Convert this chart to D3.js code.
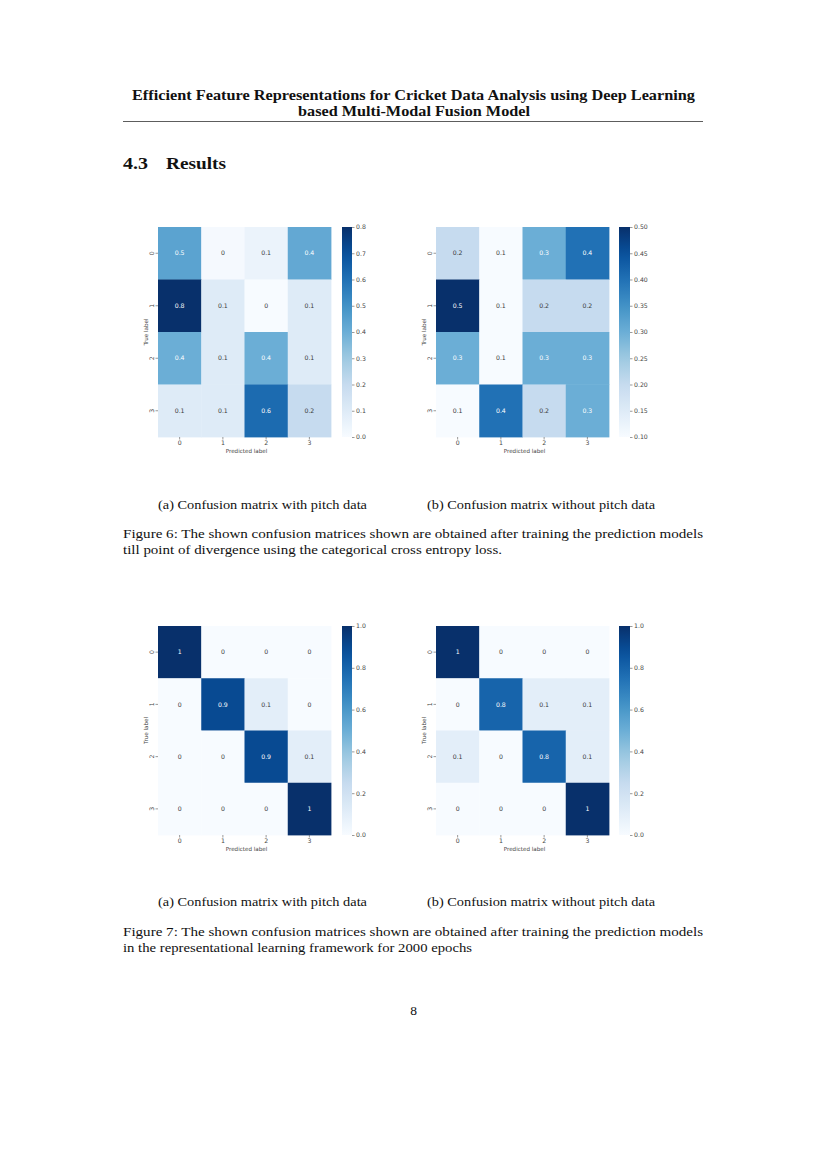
<!DOCTYPE html>
<html>
<head>
<meta charset="utf-8">
<script src="https://cdn.jsdelivr.net/npm/d3@7"></script>
<style>
  html, body { margin: 0; padding: 0; background: #fff; }
  svg { display: block; }
</style>
</head>
<body>
<script>
// ---------- DATA ----------
const classes = ["0", "1", "2", "3"];

// Figure 6 (a): with pitch data — colour values estimated from shading, labels as annotated
const fig6aValues = [
  [0.44, 0.01, 0.05, 0.42],
  [0.80, 0.10, 0.00, 0.10],
  [0.40, 0.10, 0.40, 0.10],
  [0.10, 0.10, 0.62, 0.20]
];
const fig6aLabels = [
  ["0.5", "0", "0.1", "0.4"],
  ["0.8", "0.1", "0", "0.1"],
  ["0.4", "0.1", "0.4", "0.1"],
  ["0.1", "0.1", "0.6", "0.2"]
];
const fig6aTicks = [0.0, 0.1, 0.2, 0.3, 0.4, 0.5, 0.6, 0.7, 0.8];

// Figure 6 (b): without pitch data
const fig6bValues = [
  [0.20, 0.10, 0.30, 0.40],
  [0.50, 0.10, 0.20, 0.20],
  [0.30, 0.10, 0.30, 0.30],
  [0.10, 0.40, 0.20, 0.30]
];
const fig6bLabels = [
  ["0.2", "0.1", "0.3", "0.4"],
  ["0.5", "0.1", "0.2", "0.2"],
  ["0.3", "0.1", "0.3", "0.3"],
  ["0.1", "0.4", "0.2", "0.3"]
];
const fig6bTicks = [0.10, 0.15, 0.20, 0.25, 0.30, 0.35, 0.40, 0.45, 0.50];

// Figure 7 (a): with pitch data
const fig7aValues = [
  [1.0, 0.0, 0.0, 0.0],
  [0.0, 0.9, 0.1, 0.0],
  [0.0, 0.0, 0.9, 0.1],
  [0.0, 0.0, 0.0, 1.0]
];
const fig7aLabels = [
  ["1", "0", "0", "0"],
  ["0", "0.9", "0.1", "0"],
  ["0", "0", "0.9", "0.1"],
  ["0", "0", "0", "1"]
];
const fig7aTicks = [0.0, 0.2, 0.4, 0.6, 0.8, 1.0];

// Figure 7 (b): without pitch data
const fig7bValues = [
  [1.0, 0.0, 0.0, 0.0],
  [0.0, 0.8, 0.1, 0.1],
  [0.1, 0.0, 0.8, 0.1],
  [0.0, 0.0, 0.0, 1.0]
];
const fig7bLabels = [
  ["1", "0", "0", "0"],
  ["0", "0.8", "0.1", "0.1"],
  ["0.1", "0", "0.8", "0.1"],
  ["0", "0", "0", "1"]
];
const fig7bTicks = [0.0, 0.2, 0.4, 0.6, 0.8, 1.0];

// matplotlib "Blues" colour stops
const bluesStops = ["#f7fbff", "#deebf7", "#c6dbef", "#9ecae1", "#6baed6", "#4292c6", "#2171b5", "#08519c", "#08306b"];

// ---------- PAGE ----------
const W = 827, H = 1169;
const svg = d3.select("body").append("svg").attr("width", W).attr("height", H);
svg.append("rect").attr("width", W).attr("height", H).attr("fill", "#fff");

const serif = "'Liberation Serif', 'DejaVu Serif', serif";
const sans = "'DejaVu Sans', sans-serif";

function ptext(t, x, y, size, opts = {}) {
  const el = svg.append("text")
    .attr("x", x).attr("y", y)
    .attr("font-family", serif)
    .attr("font-size", size)
    .attr("font-weight", opts.bold ? "bold" : "normal")
    .attr("fill", "#111")
    .attr("text-anchor", opts.anchor || "start")
    .text(t);
  if (opts.len) el.attr("textLength", opts.len).attr("lengthAdjust", "spacingAndGlyphs");
  return el;
}

// Running header
ptext("Efficient Feature Representations for Cricket Data Analysis using Deep Learning", 132, 99.5, 14, { bold: true, len: 563 });
ptext("based Multi-Modal Fusion Model", 298, 116, 14, { bold: true, len: 232 });
svg.append("line").attr("x1", 123).attr("x2", 703).attr("y1", 121.5).attr("y2", 121.5)
  .attr("stroke", "#333").attr("stroke-width", 0.8);

// Section heading
ptext("4.3", 123, 168.5, 17, { bold: true, len: 25 });
ptext("Results", 166, 168.5, 17, { bold: true, len: 60 });

// Captions
ptext("(a) Confusion matrix with pitch data", 158, 508.5, 13.5, { len: 209 });
ptext("(b) Confusion matrix without pitch data", 427, 508.5, 13.5, { len: 228 });
ptext("Figure 6: The shown confusion matrices shown are obtained after training the prediction models", 123, 537.5, 13.5, { len: 580 });
ptext("till point of divergence using the categorical cross entropy loss.", 123, 553.5, 13.5, { len: 379 });

ptext("(a) Confusion matrix with pitch data", 158, 905.5, 13.5, { len: 209 });
ptext("(b) Confusion matrix without pitch data", 427, 905.5, 13.5, { len: 228 });
ptext("Figure 7: The shown confusion matrices shown are obtained after training the prediction models", 123, 935.5, 13.5, { len: 580 });
ptext("in the representational learning framework for 2000 epochs", 123, 951.5, 13.5, { len: 349 });

ptext("8", 413.5, 1014.5, 13.5, { anchor: "middle" });

// ---------- HEATMAPS ----------
const blues = d3.piecewise(d3.interpolateRgb, bluesStops);

function luminance(c) {
  const rgb = d3.rgb(c);
  const f = v => { v /= 255; return v <= 0.03928 ? v / 12.92 : Math.pow((v + 0.055) / 1.055, 2.4); };
  return 0.2126 * f(rgb.r) + 0.7152 * f(rgb.g) + 0.0722 * f(rgb.b);
}

const fs = 6.2;
let gradId = 0;
function heatmap(values, labels, ticks, domain, fmt, box) {
  const g = svg.append("g");
  const x = d3.scaleBand().domain(classes).range([box.x0, box.x1]);
  const y = d3.scaleBand().domain(classes).range([box.y0, box.y1]);
  const norm = d3.scaleLinear().domain(domain).range([0, 1]).clamp(true);
  const color = v => blues(norm(v));

  const cells = [];
  values.forEach((row, i) => row.forEach((v, j) => cells.push({ r: classes[i], c: classes[j], v, lab: labels[i][j] })));

  g.selectAll("rect.cell").data(cells).join("rect")
    .attr("class", "cell")
    .attr("x", d => x(d.c)).attr("y", d => y(d.r))
    .attr("width", x.bandwidth() + 0.4).attr("height", y.bandwidth() + 0.4)
    .attr("fill", d => color(d.v));

  g.selectAll("text.ann").data(cells).join("text")
    .attr("class", "ann")
    .attr("x", d => x(d.c) + x.bandwidth() / 2)
    .attr("y", d => y(d.r) + y.bandwidth() / 2)
    .attr("dy", "0.35em")
    .attr("text-anchor", "middle")
    .attr("font-family", sans).attr("font-size", fs)
    .attr("fill", d => luminance(color(d.v)) > 0.408 ? "#3a3a3a" : "#ffffff")
    .text(d => d.lab);

  // x axis
  const xa = g.append("g").attr("transform", `translate(0,${box.y1})`)
    .call(d3.axisBottom(x).tickSize(2.5).tickPadding(1.5));
  xa.select(".domain").remove();
  xa.selectAll("line").attr("stroke", "#555").attr("stroke-width", 0.6);
  xa.selectAll("text").attr("font-family", sans).attr("font-size", fs).attr("fill", "#444");

  // y axis
  const ya = g.append("g").attr("transform", `translate(${box.x0},0)`)
    .call(d3.axisLeft(y).tickSize(2.5).tickPadding(0));
  ya.select(".domain").remove();
  ya.selectAll("line").attr("stroke", "#555").attr("stroke-width", 0.6);
  ya.selectAll("text")
    .attr("font-family", sans).attr("font-size", fs).attr("fill", "#444")
    .attr("text-anchor", "middle").attr("dy", 0).attr("x", 0)
    .attr("transform", "translate(-5.5,0) rotate(-90)")
    .attr("dominant-baseline", "middle");

  g.append("text")
    .attr("x", (box.x0 + box.x1) / 2 + 2).attr("y", box.y1 + 15.5)
    .attr("text-anchor", "middle")
    .attr("font-family", sans).attr("font-size", 5.6).attr("fill", "#444")
    .text("Predicted label");
  g.append("text")
    .attr("transform", `translate(${box.x0 - 10.5},${(box.y0 + box.y1) / 2}) rotate(-90)`)
    .attr("text-anchor", "middle")
    .attr("font-family", sans).attr("font-size", 5.6).attr("fill", "#444")
    .text("True label");

  // colour bar
  const id = "cbgrad" + (gradId++);
  const grad = svg.append("defs").append("linearGradient")
    .attr("id", id).attr("x1", 0).attr("y1", 1).attr("x2", 0).attr("y2", 0);
  d3.range(0, 1.0001, 0.05).forEach(t => {
    grad.append("stop").attr("offset", t).attr("stop-color", blues(t));
  });
  const cy = d3.scaleLinear().domain(domain).range([box.y1, box.y0]);
  g.append("rect")
    .attr("x", box.cbx).attr("y", box.y0)
    .attr("width", box.cbw).attr("height", box.y1 - box.y0)
    .attr("fill", `url(#${id})`);
  const ca = g.append("g").attr("transform", `translate(${box.cbx + box.cbw},0)`)
    .call(d3.axisRight(cy).tickValues(ticks).tickFormat(d3.format(fmt)).tickSize(2.5).tickPadding(1.5));
  ca.select(".domain").remove();
  ca.selectAll("line").attr("stroke", "#555").attr("stroke-width", 0.6);
  ca.selectAll("text").attr("font-family", sans).attr("font-size", fs).attr("fill", "#444");
}

heatmap(fig6aValues, fig6aLabels, fig6aTicks, [0, 0.8], ".1f",
  { x0: 158, x1: 331, y0: 227, y1: 437, cbx: 342, cbw: 10 });
heatmap(fig6bValues, fig6bLabels, fig6bTicks, [0.1, 0.5], ".2f",
  { x0: 436, x1: 609, y0: 227, y1: 437, cbx: 619, cbw: 11 });
heatmap(fig7aValues, fig7aLabels, fig7aTicks, [0, 1], ".1f",
  { x0: 158, x1: 331, y0: 626, y1: 835, cbx: 342, cbw: 10 });
heatmap(fig7bValues, fig7bLabels, fig7bTicks, [0, 1], ".1f",
  { x0: 436, x1: 609, y0: 626, y1: 835, cbx: 619, cbw: 11 });
</script>
</body>
</html>
